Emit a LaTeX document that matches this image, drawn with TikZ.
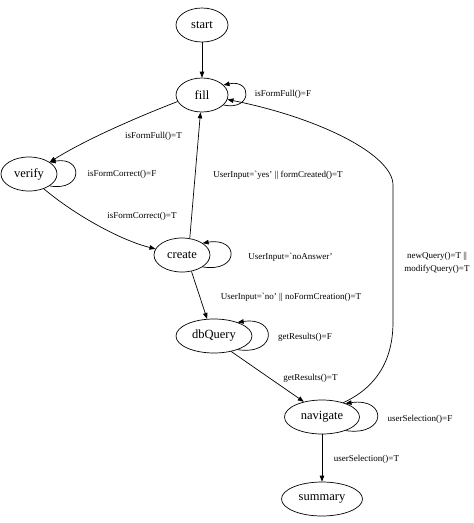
\documentclass[tikz,border=0pt]{standalone}
\usepackage{fontspec}
\setmainfont{Liberation Serif}
\usetikzlibrary{shapes.geometric,arrows.meta}
\begin{document}
\begin{tikzpicture}[x=1pt,y=-1pt,
  state/.style={ellipse,draw,line width=0.7pt,inner sep=0pt,minimum height=34pt,font=\fontsize{12.5}{14}\selectfont},
  edge/.style={draw,line width=0.7pt,-{Triangle[length=6pt,width=4.5pt]}},
  lbl/.style={font=\fontsize{9}{11}\selectfont,inner sep=0pt,align=center}]
\useasboundingbox (0,0) rectangle (474,523);
% states
\node[state,minimum width=52pt] (start)    at (202,25)  {start};
\node[state,minimum width=52pt] (fill)     at (202,95)  {fill};
\node[state,minimum width=56pt] (verify)   at (29,174)  {verify};
\node[state,minimum width=56pt] (create)   at (182,255) {create};
\node[state,minimum width=76pt] (dbQuery)  at (214,336) {dbQuery};
\node[state,minimum width=75pt] (navigate) at (322,417) {navigate};
\node[state,minimum width=81pt] (summary)  at (322,499) {summary};
% transitions
\draw[edge] (start) -- (fill);
\draw[edge] (fill.-25) .. controls +(29,6) and +(29,-6) .. (fill.25);
\draw[edge] (fill.195) .. controls (135,118) and (85,140) .. (verify.30);
\draw[edge] (verify.-30) .. controls +(34,6) and +(34,-6) .. (verify.30);
\draw[edge] (verify.-45) .. controls (75,215) and (120,240) .. (create.167);
\draw[edge] (create.65) -- (fill.-95);
\draw[edge] (create.-30) .. controls +(37,6) and +(37,-6) .. (create.30);
\draw[edge] (create.-60) -- (dbQuery.112);
\draw[edge] (dbQuery.-30) .. controls +(40,6) and +(40,-6) .. (dbQuery.30);
\draw[edge] (dbQuery.-42) -- (navigate.140);
\draw[edge] (navigate.-30) .. controls +(42,6) and +(42,-6) .. (navigate.30);
\draw[edge] (navigate.34) .. controls (375,388) and (393,362) .. (393,322)
            -- (393,185) .. controls (393,155) and (320,118) .. (fill.-10);
\draw[edge] (navigate) -- (summary);
% labels
\node[lbl] (l1)  at (283,94)    {isFormFull()=F};
\node[lbl] (l2)  at (153.5,136) {isFormFull()=T};
\node[lbl] (l3)  at (122,174)   {isFormCorrect()=F};
\node[lbl] (l4)  at (278,175)   {UserInput=\textasciigrave yes' \textbar\textbar{} formCreated()=T};
\node[lbl] (l5)  at (142,216)   {isFormCorrect()=T};
\node[lbl] (l6)  at (290.5,257) {UserInput=\textasciigrave noAnswer'};
\node[lbl] (l7)  at (437,263)   {newQuery()=T \textbar\textbar\\[2pt] modifyQuery()=T};
\node[lbl] (l8)  at (291,297)   {UserInput=\textasciigrave no' \textbar\textbar{} noFormCreation()=T};
\node[lbl] (l9)  at (305,337)   {getResults()=F};
\node[lbl] (l10) at (310.5,378) {getResults()=T};
\node[lbl] (l11) at (420,419)   {userSelection()=F};
\node[lbl] (l12) at (366.5,459) {userSelection()=T};
\end{tikzpicture}
\end{document}
